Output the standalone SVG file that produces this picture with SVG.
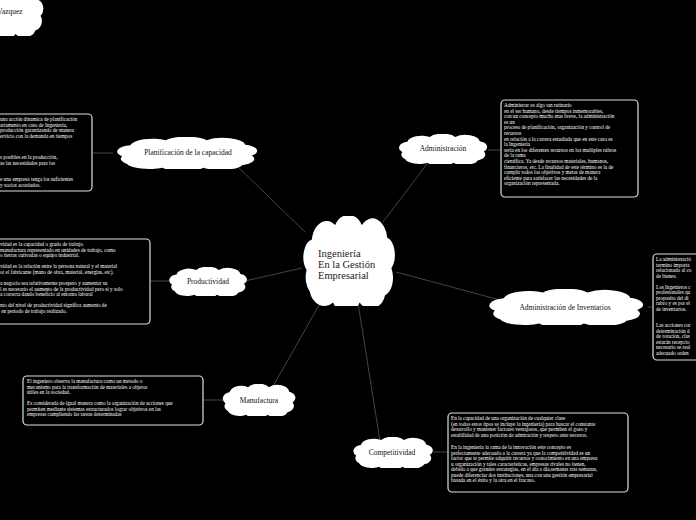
<svg xmlns="http://www.w3.org/2000/svg" width="696" height="520" viewBox="0 0 696 520">
<style>
.bg{fill:#000}
.box{fill:#000;stroke:#d8e4d0;stroke-width:1.2}
.bt{font-family:"Liberation Serif",serif;font-size:5.2px;fill:#fff}
.cl{font-family:"Liberation Serif",serif;font-size:7.5px;fill:#111;text-anchor:middle}
.ct{font-family:"Liberation Serif",serif;font-size:10.5px;fill:#222}
.ln{stroke:#555;stroke-width:0.8;fill:none}
</style>
<defs>
<symbol id="cloud" viewBox="0 0 100 50" preserveAspectRatio="none">
<path d="M10,30 a10,10 0 0,1 5,-17 a14,12 0 0,1 22,-8 a14,10 0 0,1 25,0 a14,12 0 0,1 24,7 a10,10 0 0,1 4,17 a10,10 0 0,1 -6,15 a14,10 0 0,1 -24,4 a14,10 0 0,1 -25,0 a14,10 0 0,1 -22,-6 a10,10 0 0,1 -3,-12 z" fill="#fff"/>
</symbol>
</defs>
<rect class="bg" width="696" height="520"/>
<g id="connectors">
<line class="ln" x1="305" y1="232" x2="235" y2="164"/>
<line class="ln" x1="383" y1="222" x2="430" y2="160"/>
<line class="ln" x1="302" y1="268" x2="245" y2="281"/>
<line class="ln" x1="396" y1="272" x2="500" y2="300"/>
<line class="ln" x1="322" y1="300" x2="272" y2="388"/>
<line class="ln" x1="358" y1="303" x2="380" y2="441"/>
<line class="ln" x1="93" y1="153" x2="113" y2="153"/>
<line class="ln" x1="488" y1="150" x2="501" y2="150"/>
<line class="ln" x1="150" y1="281" x2="169" y2="281"/>
<line class="ln" x1="648" y1="307" x2="653" y2="307"/>
<line class="ln" x1="203" y1="400" x2="223" y2="400"/>
<line class="ln" x1="433" y1="452" x2="448" y2="452"/>
</g>
<g id="top">
<use href="#cloud" x="-35" y="-12" width="84" height="48"/>
<text class="cl" x="10" y="14">Vazquez</text>
</g>
<g id="center">
<use href="#cloud" x="296" y="216" width="106" height="90"/>
<text class="ct" x="318" y="257">Ingeniería</text>
<text class="ct" x="318" y="268">En la Gestión</text>
<text class="ct" x="318" y="279">Empresarial</text>
</g>
<g id="planificacion">
<use href="#cloud" x="106" y="137" width="162" height="32"/>
<text class="cl" x="188" y="155">Planificación de la capacidad</text>
<rect class="box" x="-10" y="114" width="102" height="77" rx="4"/>
<text class="bt"><tspan x="0" y="121">una acción dinamica de planificación</tspan><tspan x="0" y="126.5">artamento en caso de Ingeniería,</tspan><tspan x="0" y="132">producción garantizando de manera</tspan><tspan x="0" y="137.5">ervicio con la demanda en tiempos</tspan><tspan x="0" y="159">s posibles en la producción,</tspan><tspan x="0" y="164.5">as las necesidades para los</tspan><tspan x="0" y="181">e una empresa tenga los suficientes</tspan><tspan x="0" y="186.5">y socios acordados.</tspan></text>
</g>
<g id="administracion">
<use href="#cloud" x="392" y="134" width="102" height="30"/>
<text class="cl" x="443" y="151">Administración</text>
<rect class="box" x="501" y="100" width="137" height="97" rx="4"/>
<text class="bt"><tspan x="504" y="107">Administrar es algo tan rutinario</tspan><tspan x="504" y="112.6">en el ser humano, desde tiempos inmemorables,</tspan><tspan x="504" y="118.2">con un concepto mucho mas breve, la administración</tspan><tspan x="504" y="123.8">es un</tspan><tspan x="504" y="129.4">proceso de planificación, organización y control de</tspan><tspan x="504" y="135">recursos</tspan><tspan x="504" y="140.6">en relación a la carrera estudiada que en este caso es</tspan><tspan x="504" y="146.2">la Ingeniería</tspan><tspan x="504" y="151.8">sería en los diferentes recursos en los multiples rubros</tspan><tspan x="504" y="157.4">de la rama</tspan><tspan x="504" y="163">científica. Ya desde recursos materiales, humanos,</tspan><tspan x="504" y="168.6">financieros, etc. La finalidad de este término es la de</tspan><tspan x="504" y="174.2">cumplir todos los objetivos y metas de manera</tspan><tspan x="504" y="179.8">eficiente para satisfacer las necesidades de la</tspan><tspan x="504" y="185.4">organización representada.</tspan></text>
</g>
<g id="productividad">
<use href="#cloud" x="163" y="267" width="90" height="29"/>
<text class="cl" x="208" y="284">Productividad</text>
<rect class="box" x="-10" y="239" width="160" height="85" rx="4"/>
<text class="bt"><tspan x="0" y="246">vidad es la capacidad o grado de trabajo</tspan><tspan x="0" y="251.5">manufactura representado en unidades de trabajo, como</tspan><tspan x="0" y="257">o tierras cutivadas o equipo industrial.</tspan><tspan x="0" y="268">vidad es la relación entre la persona natural y el material</tspan><tspan x="0" y="273.5">or el fabricante (mano de obra, material, energías, etc).</tspan><tspan x="0" y="285">a negocio sea relativamente prospero y aumentar su</tspan><tspan x="0" y="290.5">l es necesario el aumento de la productividad pero si y solo</tspan><tspan x="0" y="296">a correcta dando beneficio al entorno laboral</tspan><tspan x="0" y="307">nto del nivel de productividad significa aumento de</tspan><tspan x="0" y="312.5"> en periodo de trabajo realizado.</tspan></text>
</g>
<g id="inventarios">
<use href="#cloud" x="477" y="289" width="178" height="36"/>
<text class="cl" x="565" y="310">Administración de Inventarios</text>
<rect class="box" x="653" y="254" width="50" height="106" rx="4"/>
<text class="bt"><tspan x="656" y="261">La administració</tspan><tspan x="656" y="266.5">termino importa</tspan><tspan x="656" y="272">relacionado al co</tspan><tspan x="656" y="277.5">de bienes.</tspan><tspan x="656" y="288.5">Los Ingenieros c</tspan><tspan x="656" y="294">profesionales qu</tspan><tspan x="656" y="299.5">proposito del di</tspan><tspan x="656" y="305">rubro y es por el</tspan><tspan x="656" y="310.5">de inventarios.</tspan><tspan x="656" y="327">Las acciones cor</tspan><tspan x="656" y="332.5">determinación d</tspan><tspan x="656" y="338">de rotación, clas</tspan><tspan x="656" y="343.5">estarán recepcio</tspan><tspan x="656" y="349">necesario se real</tspan><tspan x="656" y="354.5">adecuado orden</tspan></text>
</g>
<g id="manufactura">
<use href="#cloud" x="217" y="384" width="84" height="32"/>
<text class="cl" x="259" y="403">Manufactura</text>
<rect class="box" x="23" y="376" width="180" height="49" rx="4"/>
<text class="bt"><tspan x="27" y="383">El ingeniero observa la manufactura como un metodo o</tspan><tspan x="27" y="388.5">mecanismo para la transformación de materiales a objetos</tspan><tspan x="27" y="394">útiles en la sociedad.</tspan><tspan x="27" y="405">Es considerada de igual manera como la organización de acciones que</tspan><tspan x="27" y="410.5">permiten mediante sistemas estructurados lograr objetivos en las</tspan><tspan x="27" y="416">empresas cumpliendo las tareas determinadas</tspan></text>
</g>
<g id="competitividad">
<use href="#cloud" x="347" y="437" width="92" height="31"/>
<text class="cl" x="392" y="455">Competitividad</text>
<rect class="box" x="448" y="413" width="180" height="79" rx="4"/>
<text class="bt"><tspan x="451" y="420">En la capacidad de una organización de cualquier clase</tspan><tspan x="451" y="425.5">(en todos estos tipos se incluye la ingeniería) para buscar el constante</tspan><tspan x="451" y="431">desarrollo y mantener factores ventajosos, que permiten el gozo y</tspan><tspan x="451" y="436.5">estabilidad de una posición de admiración y respeto ante terceros.</tspan><tspan x="451" y="449">En la ingeniería la rama de la innovación este concepto es</tspan><tspan x="451" y="454.5">perfectamente adecuado a la carrera ya que la competitividad es un</tspan><tspan x="451" y="460">factor que te permite adquirir recursos y conocimiento en una empresa</tspan><tspan x="451" y="465.5">u organización y tales características, empresas rivales no tienen,</tspan><tspan x="451" y="471">debido a que grandes estrategias, en el día a día,semanas tras semanas,</tspan><tspan x="451" y="476.5">puede diferenciar dos instituciones, una con una gestión empresarial</tspan><tspan x="451" y="482">basada en el éxito y la otra en el fracaso.</tspan></text>
</g>
</svg>
